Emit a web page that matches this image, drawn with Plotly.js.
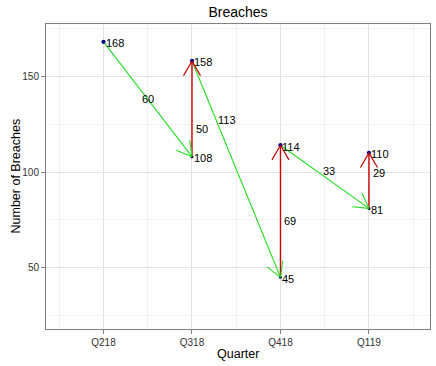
<!DOCTYPE html>
<html>
<head>
<meta charset="utf-8">
<script src="https://cdn.plot.ly/plotly-2.35.2.min.js"></script>
<style>html,body{margin:0;padding:0;background:#fff;}#chart{width:436px;height:366px;}</style>
</head>
<body>
<div id="chart"></div>
<script>
// ---- data ----
const quarters = ['Q218', 'Q318', 'Q418', 'Q119'];
const totalBreaches = [168, 158, 114, 110];      // breaches at quarter end (top points)
const remainingBreaches = [null, 108, 45, 81];   // breaches left after closures
const closedCounts = [60, 113, 33];              // green arrows (closed)
const newCounts = [50, 69, 29];                  // red arrows (new)

// ---- layout constants ----
const W = 436, H = 366;
const M = {l: 46, r: 6, t: 24, b: 37};
const xRange = [-0.65, 3.69];
const yRange = [18, 177.3];
const plotW = W - M.l - M.r, plotH = H - M.t - M.b;
const pxX = plotW / (xRange[1] - xRange[0]);
const pxY = plotH / (yRange[1] - yRange[0]);

const GREEN = '#22dd22', RED = '#cc0000', NAVY = '#00008b';
const FONT = 'Liberation Sans, Arial, sans-serif';
const xIdx = quarters.map((q, i) => i);

const traces = [];
const shapes = [];
const annotations = [];

function arrowHead(x0, y0, x1, y1, color, width) {
  // head at (x1,y1), open V like ggplot arrow()
  const vx = (x0 - x1) * pxX, vy = (y0 - y1) * pxY;
  const len = Math.hypot(vx, vy);
  const ux = vx / len, uy = vy / len;
  const L = 17, a = Math.PI / 6;
  [a, -a].forEach(t => {
    const rx = ux * Math.cos(t) - uy * Math.sin(t);
    const ry = ux * Math.sin(t) + uy * Math.cos(t);
    shapes.push({
      type: 'line', xref: 'x', yref: 'y',
      xsizemode: 'pixel', ysizemode: 'pixel',
      xanchor: x1, yanchor: y1,
      x0: 0, y0: 0, x1: rx * L, y1: ry * L,
      line: {color: color, width: width}
    });
  });
}

// green arrows: previous total -> remaining
const greenShift = [[0, 0], [-9, 49], [4, 6]];
for (let i = 1; i < quarters.length; i++) {
  const xs = [xIdx[i - 1], xIdx[i]], ys = [totalBreaches[i - 1], remainingBreaches[i]];
  traces.push({x: xs, y: ys, mode: 'lines', line: {color: GREEN, width: 1.1},
    hoverinfo: 'skip', showlegend: false});
  arrowHead(xs[0], ys[0], xs[1], ys[1], GREEN, 1.1);
  annotations.push({x: (xs[0] + xs[1]) / 2, y: (ys[0] + ys[1]) / 2, xref: 'x', yref: 'y',
    text: String(closedCounts[i - 1]), showarrow: false, xanchor: 'center', yanchor: 'middle',
    xshift: greenShift[i - 1][0], yshift: greenShift[i - 1][1],
    font: {family: FONT, size: 11, color: '#000'}});
}
// red arrows: remaining -> total
const redShift = [[2, -20], [2, -10], [2, 8]];
for (let i = 1; i < quarters.length; i++) {
  const xs = [xIdx[i], xIdx[i]], ys = [remainingBreaches[i], totalBreaches[i]];
  traces.push({x: xs, y: ys, mode: 'lines', line: {color: RED, width: 1.4},
    hoverinfo: 'skip', showlegend: false});
  arrowHead(xs[0], ys[0], xs[1], ys[1], RED, 1.2);
  annotations.push({x: xs[0], y: (ys[0] + ys[1]) / 2, xref: 'x', yref: 'y',
    text: String(newCounts[i - 1]), showarrow: false, xanchor: 'left', yanchor: 'middle',
    xshift: redShift[i - 1][0], yshift: redShift[i - 1][1],
    font: {family: FONT, size: 11, color: '#000'}});
}

// points
traces.push({x: xIdx, y: totalBreaches, mode: 'markers',
  marker: {color: NAVY, size: 4.2}, hoverinfo: 'skip', showlegend: false});
traces.push({x: xIdx, y: remainingBreaches, mode: 'markers',
  marker: {color: '#000033', size: 3}, hoverinfo: 'skip', showlegend: false});

// point labels
[totalBreaches, remainingBreaches].forEach(arr => {
  arr.forEach((v, i) => {
    if (v === null) return;
    annotations.push({x: xIdx[i], y: v, xref: 'x', yref: 'y', text: String(v),
      showarrow: false, xanchor: 'left', yanchor: 'middle', xshift: 0, yshift: -1.5,
      font: {family: FONT, size: 11, color: '#000'}});
  });
});

// axis titles
annotations.push({xref: 'paper', yref: 'paper', x: (237.7 - M.l) / plotW, y: -(354 - (H - M.b)) / plotH,
  text: 'Quarter', showarrow: false, xanchor: 'center', yanchor: 'middle',
  font: {family: FONT, size: 12.5, color: '#000'}});
annotations.push({xref: 'paper', yref: 'paper', x: (15 - M.l) / plotW, y: 0.5,
  text: 'Number of Breaches', textangle: -90, showarrow: false, xanchor: 'center', yanchor: 'middle',
  font: {family: FONT, size: 12.5, color: '#000'}});

const layout = {
  width: W, height: H,
  margin: M,
  paper_bgcolor: '#fff', plot_bgcolor: '#fff',
  showlegend: false,
  title: {text: 'Breaches', x: (M.l + plotW / 2) / W, xref: 'container', xanchor: 'center',
    y: 1 - 12 / H, yref: 'container', yanchor: 'middle',
    font: {family: FONT, size: 14, color: '#000'}},
  xaxis: {
    range: xRange, tickmode: 'array', tickvals: xIdx, ticktext: quarters,
    showgrid: true, gridcolor: '#e3e3e3', gridwidth: 1,
    minor: {tickmode: 'array', tickvals: [-0.5, 0.5, 1.5, 2.5, 3.5], showgrid: true, gridcolor: '#f2f2f2', gridwidth: 1, ticks: ''},
    zeroline: false, showline: true, mirror: true, linecolor: '#808080', linewidth: 1,
    ticks: 'outside', ticklen: 4, tickcolor: '#808080',
    tickfont: {family: FONT, size: 10, color: '#333'}
  },
  yaxis: {
    range: yRange, tickmode: 'array', tickvals: [50, 100, 150],
    showgrid: true, gridcolor: '#e3e3e3', gridwidth: 1,
    minor: {tickmode: 'array', tickvals: [25, 75, 125, 175], showgrid: true, gridcolor: '#f2f2f2', gridwidth: 1, ticks: ''},
    zeroline: false, showline: true, mirror: true, linecolor: '#808080', linewidth: 1,
    ticks: 'outside', ticklen: 4, tickcolor: '#808080',
    tickfont: {family: FONT, size: 10, color: '#333'}
  },
  shapes: shapes,
  annotations: annotations
};

Plotly.newPlot('chart', traces, layout, {staticPlot: true, displayModeBar: false});
</script>
</body>
</html>
